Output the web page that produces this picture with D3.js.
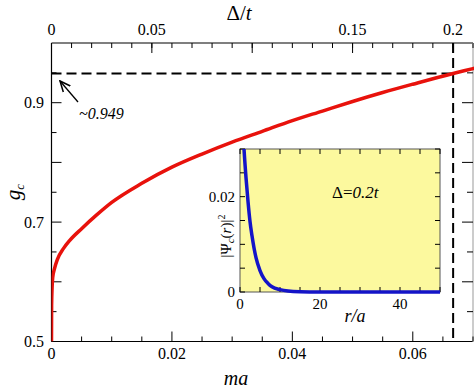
<!DOCTYPE html>
<html>
<head>
<meta charset="utf-8">
<script src="https://cdn.jsdelivr.net/npm/d3@7"></script>
<style>
  body { margin: 0; background: #fff; }
  svg text { font-family: "Liberation Serif", "DejaVu Serif", "Times New Roman", serif; }
</style>
</head>
<body>
<div id="chart"></div>
<script>
// main curve: g_c against ma
const maValues = [0, 0.00002, 0.0001, 0.0002, 0.0005, 0.001, 0.002, 0.003, 0.005, 0.0075,
                  0.01, 0.015, 0.02, 0.025, 0.03, 0.035, 0.04, 0.045, 0.05, 0.055, 0.06, 0.0667, 0.07, 0.072];
const gcValues = [0.5, 0.56, 0.59, 0.607, 0.622, 0.638, 0.656, 0.669, 0.689, 0.712,
                  0.733, 0.765, 0.792, 0.814, 0.834, 0.852, 0.870, 0.886, 0.902, 0.917, 0.931, 0.949, 0.957, 0.962];

// inset curve: |Psi_c(r)|^2 against r/a
const rValues = [0.6, 1, 1.5, 2, 2.5, 3, 4, 5, 6, 7, 8, 10, 12, 15, 20, 30, 40, 50];
const psiValues = [0.036, 0.030, 0.024, 0.019, 0.0148, 0.0118, 0.0072, 0.0045, 0.0028, 0.0018,
                   0.0011, 0.0005, 0.0002, 0.00006, 0.00001, 0, 0, 0];

const gcCritical = 0.949;
const maCritical = 0.0667;

const bottomTicks = [0, 0.02, 0.04, 0.06];
const topTickLabels = [0, 0.05, 0.15, 0.2];
const leftTickLabels = [0.5, 0.7, 0.9];
const insetXTickLabels = [0, 20, 40];
const insetYTickLabels = [0, 0.02];

const width = 474, height = 390;

const svg = d3.select("#chart").append("svg")
    .attr("width", width)
    .attr("height", height)
    .style("display", "block");

const x = d3.scaleLinear().domain([0, 0.07]).range([51.5, 473]);
const xTop = d3.scaleLinear().domain([0, 0.21]).range([51.5, 473]);
const y = d3.scaleLinear().domain([0.5, 1.0]).range([341.5, 43]);

const fmt = d => d === 0 ? "0" : String(+d.toFixed(3));

// inward ticks helpers
function ticksH(g, scale, values, yPos, len, dir) {
    g.selectAll(null).data(values).join("line")
        .attr("x1", d => scale(d)).attr("x2", d => scale(d))
        .attr("y1", yPos).attr("y2", yPos + dir * len)
        .attr("stroke", "#000").attr("stroke-width", 1);
}
function ticksV(g, scale, values, xPos, len, dir) {
    g.selectAll(null).data(values).join("line")
        .attr("y1", d => scale(d)).attr("y2", d => scale(d))
        .attr("x1", xPos).attr("x2", xPos + dir * len)
        .attr("stroke", "#000").attr("stroke-width", 1);
}

const axes = svg.append("g");
const [x0, x1] = x.range();
const [yb, yt] = y.range();

// frame
axes.append("line").attr("x1", x0).attr("x2", x1).attr("y1", yb).attr("y2", yb).attr("stroke", "#000").attr("stroke-width", 1.2);
axes.append("line").attr("x1", x0).attr("x2", x1).attr("y1", yt).attr("y2", yt).attr("stroke", "#000").attr("stroke-width", 1.2);
axes.append("line").attr("x1", x0).attr("x2", x0).attr("y1", yt).attr("y2", yb).attr("stroke", "#000").attr("stroke-width", 1.2);
axes.append("line").attr("x1", x1).attr("x2", x1).attr("y1", yt).attr("y2", yb).attr("stroke", "#ccc").attr("stroke-width", 2);

// bottom ticks
ticksH(axes, x, d3.range(0, 0.0701, 0.005).filter(v => Math.abs(v / 0.02 - Math.round(v / 0.02)) > 1e-6), yb, 5, -1);
ticksH(axes, x, bottomTicks, yb, 10, -1);
// top ticks
ticksH(axes, xTop, d3.range(0, 0.2101, 0.01), yt, 5, 1);
ticksH(axes, xTop, [0, 0.05, 0.1, 0.15, 0.2], yt, 10, 1);
// left / right ticks
ticksV(axes, y, [0.55, 0.65, 0.75, 0.85, 0.95], x0, 5, 1);
ticksV(axes, y, [0.6, 0.7, 0.8, 0.9], x0, 10, 1);
ticksV(axes, y, [0.55, 0.65, 0.75, 0.85, 0.95], x1, 6, -1);
ticksV(axes, y, [0.6, 0.7, 0.8, 0.9], x1, 11, -1);

// tick labels
axes.selectAll(null).data(bottomTicks).join("text")
    .attr("x", d => x(d)).attr("y", 359)
    .attr("text-anchor", "middle").attr("font-size", 16)
    .text(fmt);
axes.selectAll(null).data(topTickLabels).join("text")
    .attr("x", d => xTop(d)).attr("y", 35)
    .attr("text-anchor", "middle").attr("font-size", 16)
    .text(fmt);
axes.selectAll(null).data(leftTickLabels).join("text")
    .attr("x", 44).attr("y", d => y(d) + 5.5)
    .attr("text-anchor", "end").attr("font-size", 16)
    .text(d => d.toFixed(1));

// axis titles
axes.append("text").attr("x", 239).attr("y", 20).attr("text-anchor", "middle")
    .attr("font-size", 21).html('Δ/<tspan font-style="italic">t</tspan>');
axes.append("text").attr("x", 236).attr("y", 385).attr("text-anchor", "middle")
    .attr("font-size", 20).attr("font-style", "italic").text("ma");
axes.append("text").attr("transform", "translate(20,192) rotate(-90)").attr("text-anchor", "middle")
    .attr("font-size", 21).attr("font-style", "italic")
    .html('g<tspan font-size="13" dy="4">c</tspan>');

// dashed guide lines
svg.append("line")
    .attr("x1", x0).attr("x2", x(maCritical))
    .attr("y1", y(gcCritical)).attr("y2", y(gcCritical))
    .attr("stroke", "#000").attr("stroke-width", 2).attr("stroke-dasharray", "10,5");
svg.append("line")
    .attr("x1", x(maCritical)).attr("x2", x(maCritical))
    .attr("y1", yt).attr("y2", yb)
    .attr("stroke", "#000").attr("stroke-width", 2).attr("stroke-dasharray", "10,5");

// main red curve
const clipMain = svg.append("clipPath").attr("id", "clipMain");
clipMain.append("rect").attr("x", x0).attr("y", yt).attr("width", width - x0).attr("height", yb - yt);

const mainLine = d3.line()
    .x((d, i) => x(maValues[i]))
    .y(d => y(d))
    .curve(d3.curveMonotoneX);
svg.append("path")
    .attr("clip-path", "url(#clipMain)")
    .attr("d", mainLine(gcValues))
    .attr("fill", "none").attr("stroke", "#e8120c").attr("stroke-width", 3.5);

// annotation arrow
svg.append("defs").append("marker")
    .attr("id", "arrow").attr("viewBox", "0 0 10 10")
    .attr("refX", 9).attr("refY", 5)
    .attr("markerWidth", 9).attr("markerHeight", 9)
    .attr("orient", "auto-start-reverse")
    .append("path").attr("d", "M0,1 L9,5 L0,9").attr("fill", "none").attr("stroke", "#000").attr("stroke-width", 1.3);
svg.append("line")
    .attr("x1", 78).attr("y1", 102).attr("x2", 60).attr("y2", 81)
    .attr("stroke", "#000").attr("stroke-width", 1.3)
    .attr("marker-end", "url(#arrow)");
svg.append("text").attr("x", 79).attr("y", 119)
    .attr("font-size", 16).attr("font-style", "italic").text("~" + gcCritical);

// inset
const ix = d3.scaleLinear().domain([0, 50]).range([240, 440]);
const iy = d3.scaleLinear().domain([0, 0.03]).range([292, 149]);
const inset = svg.append("g");
const [ix0, ix1] = ix.range();
const [iyb, iyt] = iy.range();

inset.append("rect")
    .attr("x", ix0).attr("y", iyt).attr("width", ix1 - ix0).attr("height", iyb - iyt)
    .attr("fill", "#fcf99e").attr("stroke", "#555").attr("stroke-width", 1);

ticksH(inset, ix, d3.range(0, 50.1, 5), iyt, 5, 1);
ticksH(inset, ix, d3.range(0, 50.1, 5), iyb, 5, -1);
ticksV(inset, iy, d3.range(0, 0.0301, 0.005), ix0, 5, 1);
ticksV(inset, iy, d3.range(0, 0.0301, 0.005), ix1, 5, -1);

inset.append("clipPath").attr("id", "clipInset")
    .append("rect").attr("x", ix0).attr("y", iyt).attr("width", ix1 - ix0).attr("height", iyb - iyt + 2);

const insetLine = d3.line()
    .x((d, i) => ix(rValues[i]))
    .y(d => iy(d))
    .curve(d3.curveMonotoneX);
inset.append("path")
    .attr("clip-path", "url(#clipInset)")
    .attr("d", insetLine(psiValues))
    .attr("fill", "none").attr("stroke", "#1414c8").attr("stroke-width", 3.5);

inset.selectAll(null).data(insetXTickLabels).join("text")
    .attr("x", d => ix(d)).attr("y", 309)
    .attr("text-anchor", "middle").attr("font-size", 15)
    .text(d => d);
inset.selectAll(null).data(insetYTickLabels).join("text")
    .attr("x", 235).attr("y", d => iy(d) + 5)
    .attr("text-anchor", "end").attr("font-size", 15)
    .text(d => d);

inset.append("text").attr("x", 355).attr("y", 322).attr("text-anchor", "middle")
    .attr("font-size", 18).attr("font-style", "italic").html('r/a');
inset.append("text").attr("transform", "translate(231,236) rotate(-90)").attr("text-anchor", "middle")
    .attr("font-size", 15)
    .html('|Ψ<tspan font-size="11" dy="3" font-style="italic">c</tspan><tspan dy="-3">(</tspan><tspan font-style="italic">r</tspan>)|<tspan font-size="10" dy="-6">2</tspan>');
inset.append("text").attr("x", 332).attr("y", 198)
    .attr("font-size", 17)
    .html('Δ=<tspan font-style="italic">0.2t</tspan>');
</script>
</body>
</html>
